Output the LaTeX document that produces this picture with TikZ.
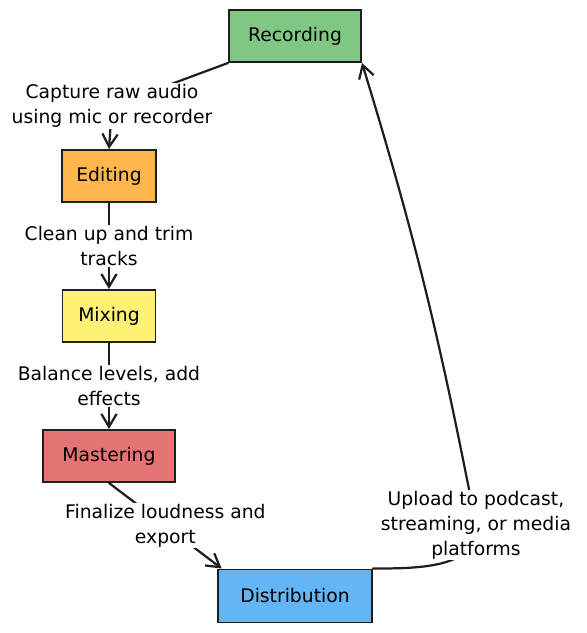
\documentclass[tikz,border=0pt]{standalone}
\usepackage{fontspec}
\setmainfont{DejaVu Sans}
\usetikzlibrary{arrows.meta}
\definecolor{ink}{HTML}{1E1E1E}
\definecolor{recgreen}{HTML}{81C784}
\definecolor{editorange}{HTML}{FFB74D}
\definecolor{mixyellow}{HTML}{FFF176}
\definecolor{masterred}{HTML}{E57373}
\definecolor{distblue}{HTML}{64B5F6}
\newcommand{\txtfont}{\fontsize{16}{21.3}\selectfont}

\begin{document}
\begin{tikzpicture}[x=0.03cm, y=0.03cm,
	box/.style={draw=ink, line width=1.7pt, minimum height=1.56cm, font=\txtfont},
	lbl/.style={fill=white, align=center, inner sep=1pt, font=\txtfont},
	arr/.style={draw=ink, line width=1.9pt, line join=round, line cap=round,
		-{Straight Barb[length=11pt, width=13pt, line width=1.9pt]}}]
	\useasboundingbox (0, 0) rectangle (587, 633);
	% Stages:
	\node[box, fill=recgreen, minimum width=3.96cm] (rec) at (295, 597) {Recording};
	\node[box, fill=editorange, minimum width=2.82cm] (edit) at (109, 457) {Editing};
	\node[box, fill=mixyellow, minimum width=2.79cm] (mix) at (109, 317) {Mixing};
	\node[box, fill=masterred, minimum width=3.96cm] (master) at (109, 177) {Mastering};
	\node[box, fill=distblue, minimum width=4.62cm, minimum height=1.59cm] (dist) at (295, 37) {Distribution};
	\coordinate (capmid) at (112, 527);
	\coordinate (upmid) at (476, 108);
	% Arrows and their labels:
	\draw[arr] (rec.south west) -- (capmid) node[lbl] {Capture raw audio\\using mic or recorder} -- (edit.north);
	\draw[arr] (edit) -- node[lbl] {Clean up and trim\\tracks} (mix);
	\draw[arr] (mix) -- node[lbl] {Balance levels, add\\effects} (master);
	\draw[arr] (master.south) -- node[lbl] {Finalize loudness and\\export} ([xshift=4pt]dist.north west);
	\draw[arr] (dist.north east) to[out=0, in=-85] (upmid) node[lbl] {Upload to podcast,\\streaming, or media\\platforms}
		to[out=101, in=-73] (rec.south east);
\end{tikzpicture}
\end{document}
